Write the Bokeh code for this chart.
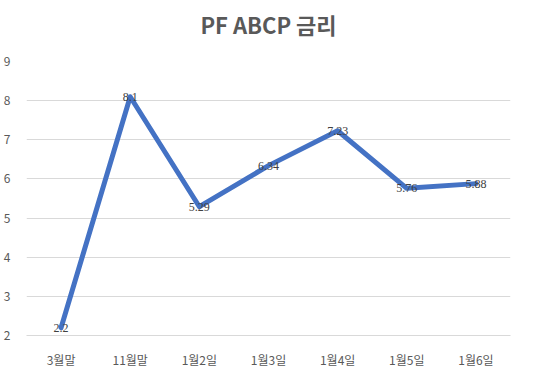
from bokeh.plotting import figure
from bokeh.models import Range1d, FactorRange, ColumnDataSource, FixedTicker, LabelSet, Title
from bokeh.embed import file_html
from bokeh.resources import INLINE

categories = ["3월말", "11월말", "1월2일", "1월3일", "1월4일", "1월5일", "1월6일"]
rates = [2.2, 8.1, 5.29, 6.34, 7.23, 5.76, 5.88]
rate_labels = ["2.2", "8.1", "5.29", "6.34", "7.23", "5.76", "5.88"]
y_ticks = [2, 3, 4, 5, 6, 7, 8, 9]
title_text = "PF ABCP 금리"

FONT = "Noto Sans CJK KR"

src = ColumnDataSource(dict(x=categories, y=rates, lab=rate_labels))

p = figure(width=535, height=378, output_backend="svg", toolbar_location=None, title=None,
           x_range=FactorRange(*categories, range_padding=0),
           y_range=Range1d(2, 9),
           min_border_left=25, min_border_right=25, min_border_bottom=43, min_border_top=60)

# spacer panel closest to the frame, then the visible title above it
spacer = Title(text=" ", text_font_size="1px", standoff=14, text_color="white")
p.add_layout(spacer, "above")
main_title = Title(text=title_text, align="center", text_font=FONT, text_font_size="22px",
                   text_font_style="bold", text_color="#595959", standoff=10, offset=0)
p.add_layout(main_title, "above")

p.outline_line_color = None
p.background_fill_color = "white"
p.border_fill_color = "white"

p.line("x", "y", source=src, line_color="#4472C4", line_width=5, line_join="round", line_cap="round")

labels = LabelSet(x="x", y="y", text="lab", source=src, text_align="center", text_baseline="middle",
                  text_font_size="12px", text_color="#404040", text_font=FONT)
p.add_layout(labels)

p.yaxis.ticker = FixedTicker(ticks=y_ticks)
p.ygrid.ticker = FixedTicker(ticks=y_ticks)
p.ygrid.grid_line_color = "#D9D9D9"
p.xgrid.grid_line_color = None
p.yaxis.axis_line_color = None
p.yaxis.major_tick_line_color = None
p.yaxis.minor_tick_line_color = None
p.yaxis.major_label_text_font = FONT
p.yaxis.major_label_text_font_size = "12px"
p.yaxis.major_label_text_color = "#595959"
p.yaxis.major_label_standoff = 10

p.xaxis.axis_line_color = "#D9D9D9"
p.xaxis.axis_line_width = 1
p.xaxis.major_tick_line_color = None
p.xaxis.minor_tick_line_color = None
p.xaxis.major_label_text_font = FONT
p.xaxis.major_label_text_font_size = "12px"
p.xaxis.major_label_text_color = "#595959"
p.xaxis.major_label_standoff = 9

open("out.html", "w").write(file_html(p, INLINE))
